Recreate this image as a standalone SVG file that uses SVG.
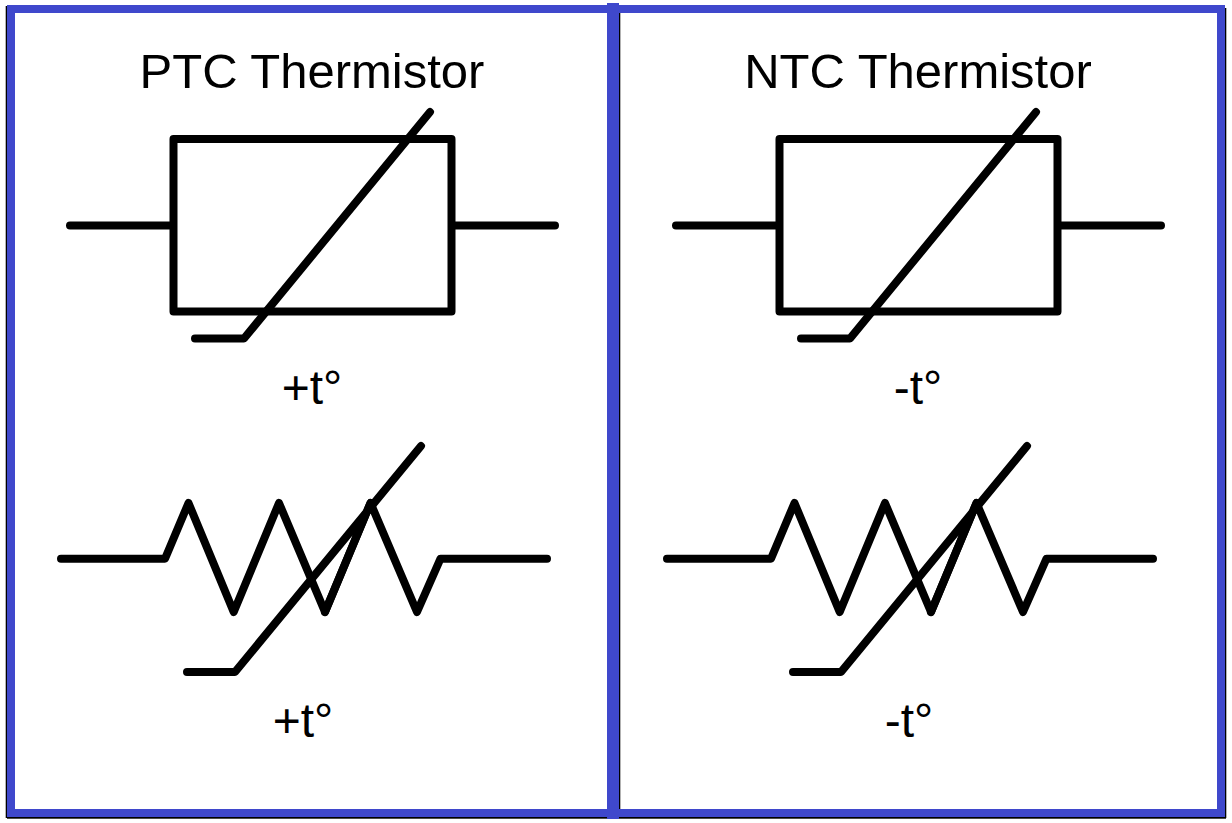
<svg xmlns="http://www.w3.org/2000/svg" width="1232" height="823" viewBox="0 0 1232 823">
<style>
.sym{fill:none;stroke:#000;stroke-width:8;stroke-linecap:round;stroke-linejoin:round}
.title{font-family:"Liberation Sans",Arial,sans-serif;font-size:49px;text-anchor:middle;fill:#000}
.lab{font-family:"Liberation Sans",Arial,sans-serif;font-size:48px;text-anchor:middle;fill:#000}
.blue{fill:#3f48cc}
</style>
<defs>
<g id="boxsym">
<rect class="sym" x="173.500" y="139" width="278" height="172.500"/>
<path class="sym" d="M70 225.500H173M452 225.500H555M195 338.500H244L430 112"/>
</g>
<g id="zigsym">
<path class="sym" d="M61 558.700H165L188.500 503L233.700 612L279 503L325 612L370.500 503L417 612L440.500 558.700H547"/>
<path class="sym" d="M187 672H235L421 446M325 612L370.500 503"/>
</g>
</defs>
<rect width="1232" height="823" fill="#fff"/>
<g id="frame">
<rect x="5.700" y="6" width="2" height="812" fill="#000"/>
<rect x="7" y="817" width="1219" height="1.700" fill="#000"/>
<rect x="619" y="13" width="1.300" height="796" fill="#000"/>
<rect x="1225" y="8" width="1.300" height="810" fill="#000"/>
<rect class="blue" x="7" y="5" width="1218" height="8"/>
<rect class="blue" x="7" y="809" width="1218" height="8"/>
<rect class="blue" x="7" y="5" width="8" height="812"/>
<rect class="blue" x="1217" y="5" width="8" height="812"/>
<rect class="blue" x="607" y="3" width="12" height="816"/>
</g>
<g id="ptc-title"><text class="title" x="312" y="88">PTC Thermistor</text></g>
<g id="ntc-title"><text class="title" x="918" y="88">NTC Thermistor</text></g>
<g id="ptc-box"><use href="#boxsym"/></g>
<g id="ptc-box-label"><text class="lab" x="312" y="404">+t°</text></g>
<g id="ptc-zig"><use href="#zigsym"/></g>
<g id="ptc-zig-label"><text class="lab" x="303" y="737">+t°</text></g>
<g id="ntc-box"><use href="#boxsym" x="606"/></g>
<g id="ntc-box-label"><text class="lab" x="918" y="404">-t°</text></g>
<g id="ntc-zig"><use href="#zigsym" x="606"/></g>
<g id="ntc-zig-label"><text class="lab" x="909" y="737">-t°</text></g>
</svg>
